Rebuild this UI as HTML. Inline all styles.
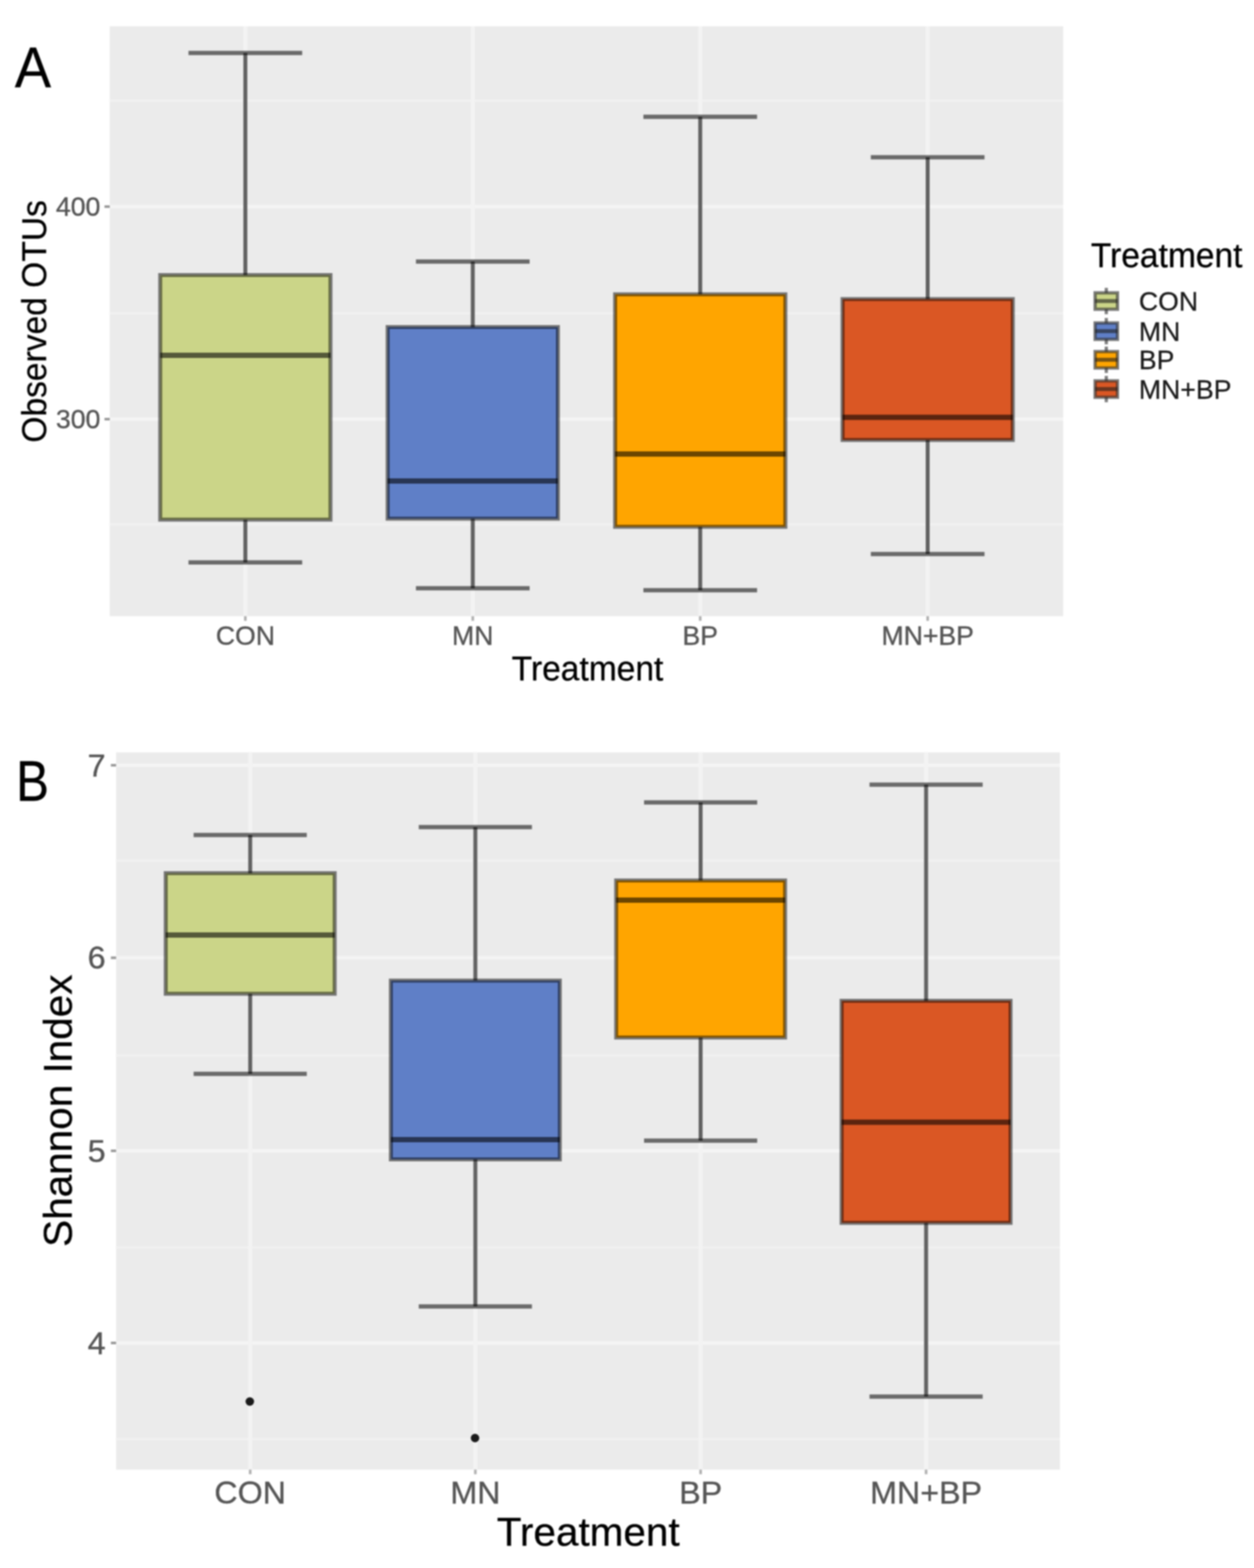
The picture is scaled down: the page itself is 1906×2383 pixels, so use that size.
<!DOCTYPE html>
<html lang="en"><head><meta charset="utf-8"><title>Alpha diversity boxplots</title>
<style>
html,body{margin:0;padding:0;background:#fff;}
body{width:1906px;height:2383px;overflow:hidden;font-family:"Liberation Sans",Arial,sans-serif;}
svg{display:block;filter:blur(1.2px);}
</style></head><body>
<svg width="1906" height="2383" viewBox="0 0 1906 2383" font-family="'Liberation Sans', Arial, sans-serif">
<rect width="1906" height="2383" fill="#fff"/>
<rect x="166.8" y="40" width="1449.2" height="896.5" fill="#EBEBEB"/>
<g fill="none">
<line x1="166.8" x2="1616" y1="153" y2="153" stroke="#F0F0F0" stroke-width="4"/>
<line x1="166.8" x2="1616" y1="476" y2="476" stroke="#F0F0F0" stroke-width="4"/>
<line x1="166.8" x2="1616" y1="797" y2="797" stroke="#F0F0F0" stroke-width="4"/>
<line x1="166.8" x2="1616" y1="314" y2="314" stroke="#F4F4F4" stroke-width="5.5"/>
<line x1="166.8" x2="1616" y1="637" y2="637" stroke="#F4F4F4" stroke-width="5.5"/>
<line x1="372.9" x2="372.9" y1="40" y2="936.5" stroke="#F3F3F3" stroke-width="6.5"/>
<line x1="718.6" x2="718.6" y1="40" y2="936.5" stroke="#F3F3F3" stroke-width="6.5"/>
<line x1="1064.3" x2="1064.3" y1="40" y2="936.5" stroke="#F3F3F3" stroke-width="6.5"/>
<line x1="1410.0" x2="1410.0" y1="40" y2="936.5" stroke="#F3F3F3" stroke-width="6.5"/>
<line x1="158.8" x2="166.8" y1="314" y2="314" stroke="#9a9a9a" stroke-width="4"/>
<line x1="158.8" x2="166.8" y1="637" y2="637" stroke="#9a9a9a" stroke-width="4"/>
<line x1="372.9" x2="372.9" y1="936.5" y2="943.5" stroke="#b0b0b0" stroke-width="4"/>
<line x1="718.6" x2="718.6" y1="936.5" y2="943.5" stroke="#b0b0b0" stroke-width="4"/>
<line x1="1064.3" x2="1064.3" y1="936.5" y2="943.5" stroke="#b0b0b0" stroke-width="4"/>
<line x1="1410.0" x2="1410.0" y1="936.5" y2="943.5" stroke="#b0b0b0" stroke-width="4"/>
</g>
<g font-size="40.5" fill="#555" stroke="#555" stroke-width="0.5">
<text x="152.5" y="327.5" text-anchor="end">400</text>
<text x="152.5" y="650.5" text-anchor="end">300</text>
<text x="372.9" y="979.5" text-anchor="middle">CON</text>
<text x="718.6" y="979.5" text-anchor="middle">MN</text>
<text x="1064.3" y="979.5" text-anchor="middle">BP</text>
<text x="1410.0" y="979.5" text-anchor="middle">MN+BP</text>
</g>
<g font-size="51" fill="#000" stroke="#000" stroke-width="0.4" text-anchor="middle">
<text x="893" y="1033.5">Treatment</text>
<text transform="translate(69.5,488.5) rotate(-90)">Observed OTUs</text>
</g>
<g stroke="#000" stroke-opacity="0.6" stroke-width="6" fill="none">
<line x1="372.9" x2="372.9" y1="80.5" y2="418"/><line x1="372.9" x2="372.9" y1="789.7" y2="854.7"/>
</g>
<g stroke="#000" stroke-opacity="0.55" stroke-width="6.5" fill="none"><line x1="286.5" x2="459.3" y1="80.5" y2="80.5"/><line x1="286.5" x2="459.3" y1="854.7" y2="854.7"/></g>
<rect x="243.5" y="418" width="258.8" height="371.7" fill="#CBD588" stroke="#000" stroke-opacity="0.5" stroke-width="6"/>
<line x1="243.5" x2="502.3" y1="540" y2="540" stroke="#000" stroke-opacity="0.58" stroke-width="8"/>
<g stroke="#000" stroke-opacity="0.6" stroke-width="6" fill="none">
<line x1="718.6" x2="718.6" y1="397.5" y2="497"/><line x1="718.6" x2="718.6" y1="788.3" y2="894"/>
</g>
<g stroke="#000" stroke-opacity="0.55" stroke-width="6.5" fill="none"><line x1="632.2" x2="805.0" y1="397.5" y2="397.5"/><line x1="632.2" x2="805.0" y1="894" y2="894"/></g>
<rect x="589.2" y="497" width="258.8" height="291.3" fill="#5F7FC7" stroke="#000" stroke-opacity="0.5" stroke-width="6"/>
<line x1="589.2" x2="848.0" y1="731" y2="731" stroke="#000" stroke-opacity="0.58" stroke-width="8"/>
<g stroke="#000" stroke-opacity="0.6" stroke-width="6" fill="none">
<line x1="1064.3" x2="1064.3" y1="177.5" y2="447.3"/><line x1="1064.3" x2="1064.3" y1="800.6" y2="897"/>
</g>
<g stroke="#000" stroke-opacity="0.55" stroke-width="6.5" fill="none"><line x1="977.9" x2="1150.7" y1="177.5" y2="177.5"/><line x1="977.9" x2="1150.7" y1="897" y2="897"/></g>
<rect x="934.9" y="447.3" width="258.8" height="353.3" fill="#FFA500" stroke="#000" stroke-opacity="0.5" stroke-width="6"/>
<line x1="934.9" x2="1193.7" y1="690" y2="690" stroke="#000" stroke-opacity="0.58" stroke-width="8"/>
<g stroke="#000" stroke-opacity="0.6" stroke-width="6" fill="none">
<line x1="1410.0" x2="1410.0" y1="239" y2="454.5"/><line x1="1410.0" x2="1410.0" y1="668.7" y2="842"/>
</g>
<g stroke="#000" stroke-opacity="0.55" stroke-width="6.5" fill="none"><line x1="1323.6" x2="1496.4" y1="239" y2="239"/><line x1="1323.6" x2="1496.4" y1="842" y2="842"/></g>
<rect x="1280.6" y="454.5" width="258.8" height="214.2" fill="#DA5724" stroke="#000" stroke-opacity="0.5" stroke-width="6"/>
<line x1="1280.6" x2="1539.4" y1="634.2" y2="634.2" stroke="#000" stroke-opacity="0.58" stroke-width="8"/>
<rect x="176.5" y="1143.5" width="1434.5" height="1090.0" fill="#EBEBEB"/>
<g fill="none">
<line x1="176.5" x2="1611" y1="1308" y2="1308" stroke="#F0F0F0" stroke-width="4"/>
<line x1="176.5" x2="1611" y1="1604" y2="1604" stroke="#F0F0F0" stroke-width="4"/>
<line x1="176.5" x2="1611" y1="1896" y2="1896" stroke="#F0F0F0" stroke-width="4"/>
<line x1="176.5" x2="1611" y1="2187" y2="2187" stroke="#F0F0F0" stroke-width="4"/>
<line x1="176.5" x2="1611" y1="1163" y2="1163" stroke="#F4F4F4" stroke-width="5.5"/>
<line x1="176.5" x2="1611" y1="1455.6" y2="1455.6" stroke="#F4F4F4" stroke-width="5.5"/>
<line x1="176.5" x2="1611" y1="1749" y2="1749" stroke="#F4F4F4" stroke-width="5.5"/>
<line x1="176.5" x2="1611" y1="2041" y2="2041" stroke="#F4F4F4" stroke-width="5.5"/>
<line x1="380.3" x2="380.3" y1="1143.5" y2="2233.5" stroke="#F3F3F3" stroke-width="6.5"/>
<line x1="722.5" x2="722.5" y1="1143.5" y2="2233.5" stroke="#F3F3F3" stroke-width="6.5"/>
<line x1="1064.9" x2="1064.9" y1="1143.5" y2="2233.5" stroke="#F3F3F3" stroke-width="6.5"/>
<line x1="1407.6" x2="1407.6" y1="1143.5" y2="2233.5" stroke="#F3F3F3" stroke-width="6.5"/>
<line x1="168.5" x2="176.5" y1="1163" y2="1163" stroke="#9a9a9a" stroke-width="4"/>
<line x1="168.5" x2="176.5" y1="1455.6" y2="1455.6" stroke="#9a9a9a" stroke-width="4"/>
<line x1="168.5" x2="176.5" y1="1749" y2="1749" stroke="#9a9a9a" stroke-width="4"/>
<line x1="168.5" x2="176.5" y1="2041" y2="2041" stroke="#9a9a9a" stroke-width="4"/>
<line x1="380.3" x2="380.3" y1="2233.5" y2="2240.5" stroke="#b0b0b0" stroke-width="4"/>
<line x1="722.5" x2="722.5" y1="2233.5" y2="2240.5" stroke="#b0b0b0" stroke-width="4"/>
<line x1="1064.9" x2="1064.9" y1="2233.5" y2="2240.5" stroke="#b0b0b0" stroke-width="4"/>
<line x1="1407.6" x2="1407.6" y1="2233.5" y2="2240.5" stroke="#b0b0b0" stroke-width="4"/>
</g>
<g font-size="49" fill="#555" stroke="#555" stroke-width="0.5">
<text x="160.5" y="1179.5" text-anchor="end">7</text>
<text x="160.5" y="1472.1" text-anchor="end">6</text>
<text x="160.5" y="1765.5" text-anchor="end">5</text>
<text x="160.5" y="2057.5" text-anchor="end">4</text>
<text x="380.3" y="2284.5" text-anchor="middle">CON</text>
<text x="722.5" y="2284.5" text-anchor="middle">MN</text>
<text x="1064.9" y="2284.5" text-anchor="middle">BP</text>
<text x="1407.6" y="2284.5" text-anchor="middle">MN+BP</text>
</g>
<g font-size="61.5" fill="#000" stroke="#000" stroke-width="0.4" text-anchor="middle">
<text x="894" y="2349">Treatment</text>
<text transform="translate(108.5,1688) rotate(-90)">Shannon Index</text>
</g>
<g stroke="#000" stroke-opacity="0.6" stroke-width="6" fill="none">
<line x1="380.3" x2="380.3" y1="1269" y2="1327"/><line x1="380.3" x2="380.3" y1="1510.3" y2="1632"/>
</g>
<g stroke="#000" stroke-opacity="0.55" stroke-width="6.5" fill="none"><line x1="294.3" x2="466.3" y1="1269" y2="1269"/><line x1="294.3" x2="466.3" y1="1632" y2="1632"/></g>
<rect x="251.9" y="1327" width="256.8" height="183.3" fill="#CBD588" stroke="#000" stroke-opacity="0.5" stroke-width="6"/>
<line x1="251.9" x2="508.7" y1="1421" y2="1421" stroke="#000" stroke-opacity="0.58" stroke-width="8"/>
<g stroke="#000" stroke-opacity="0.6" stroke-width="6" fill="none">
<line x1="722.5" x2="722.5" y1="1257" y2="1490.3"/><line x1="722.5" x2="722.5" y1="1762" y2="1985.5"/>
</g>
<g stroke="#000" stroke-opacity="0.55" stroke-width="6.5" fill="none"><line x1="636.5" x2="808.5" y1="1257" y2="1257"/><line x1="636.5" x2="808.5" y1="1985.5" y2="1985.5"/></g>
<rect x="594.1" y="1490.3" width="256.8" height="271.7" fill="#5F7FC7" stroke="#000" stroke-opacity="0.5" stroke-width="6"/>
<line x1="594.1" x2="850.9" y1="1732" y2="1732" stroke="#000" stroke-opacity="0.58" stroke-width="8"/>
<g stroke="#000" stroke-opacity="0.6" stroke-width="6" fill="none">
<line x1="1064.9" x2="1064.9" y1="1219.5" y2="1338.1"/><line x1="1064.9" x2="1064.9" y1="1576.8" y2="1733.5"/>
</g>
<g stroke="#000" stroke-opacity="0.55" stroke-width="6.5" fill="none"><line x1="978.9" x2="1150.9" y1="1219.5" y2="1219.5"/><line x1="978.9" x2="1150.9" y1="1733.5" y2="1733.5"/></g>
<rect x="936.5" y="1338.1" width="256.8" height="238.7" fill="#FFA500" stroke="#000" stroke-opacity="0.5" stroke-width="6"/>
<line x1="936.5" x2="1193.3" y1="1367.9" y2="1367.9" stroke="#000" stroke-opacity="0.58" stroke-width="8"/>
<g stroke="#000" stroke-opacity="0.6" stroke-width="6" fill="none">
<line x1="1407.6" x2="1407.6" y1="1192.5" y2="1521"/><line x1="1407.6" x2="1407.6" y1="1858.5" y2="2122.5"/>
</g>
<g stroke="#000" stroke-opacity="0.55" stroke-width="6.5" fill="none"><line x1="1321.6" x2="1493.6" y1="1192.5" y2="1192.5"/><line x1="1321.6" x2="1493.6" y1="2122.5" y2="2122.5"/></g>
<rect x="1279.2" y="1521" width="256.8" height="337.5" fill="#DA5724" stroke="#000" stroke-opacity="0.5" stroke-width="6"/>
<line x1="1279.2" x2="1536.0" y1="1705.5" y2="1705.5" stroke="#000" stroke-opacity="0.58" stroke-width="8"/>
<circle cx="379.7" cy="2130" r="6.5" fill="#1a1a1a"/>
<circle cx="722" cy="2185.5" r="6.5" fill="#1a1a1a"/>
<text transform="translate(22.5,133) scale(0.95,1)" font-size="87" fill="#000" stroke="#000" stroke-width="0.4">A</text>
<text transform="translate(24.5,1216.5) scale(0.86,1)" font-size="87" fill="#000" stroke="#000" stroke-width="0.4">B</text>
<text x="1658" y="406" font-size="51" fill="#000" stroke="#000" stroke-width="0.4">Treatment</text>
<line x1="1681.5" x2="1681.5" y1="437.5" y2="477.5" stroke="#2d2d2d" stroke-opacity="0.6" stroke-width="5"/>
<rect x="1664.5" y="445.0" width="34" height="25" fill="#CBD588" stroke="#2d2d2d" stroke-opacity="0.62" stroke-width="5"/>
<line x1="1664.5" x2="1698.5" y1="457.5" y2="457.5" stroke="#1e1e1e" stroke-opacity="0.6" stroke-width="6"/>
<text x="1731" y="471.8" font-size="40.5" fill="#1a1a1a" stroke="#1a1a1a" stroke-width="0.4">CON</text>
<line x1="1681.5" x2="1681.5" y1="483.3" y2="523.3" stroke="#2d2d2d" stroke-opacity="0.6" stroke-width="5"/>
<rect x="1664.5" y="490.8" width="34" height="25" fill="#5F7FC7" stroke="#2d2d2d" stroke-opacity="0.62" stroke-width="5"/>
<line x1="1664.5" x2="1698.5" y1="503.3" y2="503.3" stroke="#1e1e1e" stroke-opacity="0.6" stroke-width="6"/>
<text x="1731" y="517.6" font-size="40.5" fill="#1a1a1a" stroke="#1a1a1a" stroke-width="0.4">MN</text>
<line x1="1681.5" x2="1681.5" y1="526.8" y2="566.8" stroke="#2d2d2d" stroke-opacity="0.6" stroke-width="5"/>
<rect x="1664.5" y="534.3" width="34" height="25" fill="#FFA500" stroke="#2d2d2d" stroke-opacity="0.62" stroke-width="5"/>
<line x1="1664.5" x2="1698.5" y1="546.8" y2="546.8" stroke="#1e1e1e" stroke-opacity="0.6" stroke-width="6"/>
<text x="1731" y="561.0999999999999" font-size="40.5" fill="#1a1a1a" stroke="#1a1a1a" stroke-width="0.4">BP</text>
<line x1="1681.5" x2="1681.5" y1="571.3" y2="611.3" stroke="#2d2d2d" stroke-opacity="0.6" stroke-width="5"/>
<rect x="1664.5" y="578.8" width="34" height="25" fill="#DA5724" stroke="#2d2d2d" stroke-opacity="0.62" stroke-width="5"/>
<line x1="1664.5" x2="1698.5" y1="591.3" y2="591.3" stroke="#1e1e1e" stroke-opacity="0.6" stroke-width="6"/>
<text x="1731" y="605.5999999999999" font-size="40.5" fill="#1a1a1a" stroke="#1a1a1a" stroke-width="0.4">MN+BP</text>
</svg>
</body></html>
